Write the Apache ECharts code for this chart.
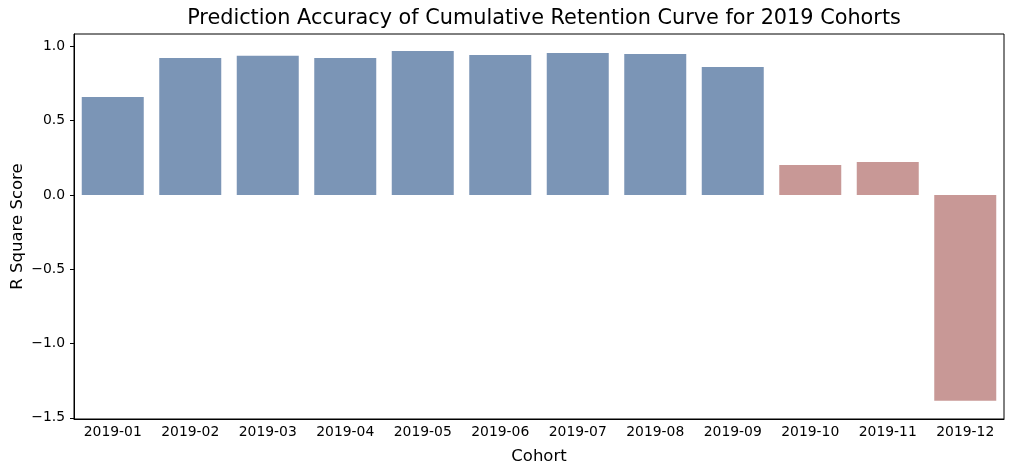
<!DOCTYPE html>
<html>
<head>
<meta charset="utf-8">
<script src="https://cdn.jsdelivr.net/npm/echarts@6/dist/echarts.min.js"></script>
<style>
html,body{margin:0;padding:0;background:#fff;}
#chart{width:1014px;height:473px;}
</style>
</head>
<body>
<div id="chart"></div>
<script>
const cohorts = ['2019-01','2019-02','2019-03','2019-04','2019-05','2019-06','2019-07','2019-08','2019-09','2019-10','2019-11','2019-12'];
const rSquare = [0.660, 0.923, 0.938, 0.923, 0.970, 0.943, 0.956, 0.949, 0.862, 0.202, 0.222, -1.385];
const yTicks = [-1.5, -1.0, -0.5, 0.0, 0.5, 1.0];
const threshold = 0.5;

const BLUE = '#7b95b6';
const RED = '#c89896';
const FONT = 'DejaVu Sans';

const chart = echarts.init(document.getElementById('chart'), null, {renderer: 'canvas'});
chart.setOption({
  animation: false,
  backgroundColor: '#fff',
  title: {
    text: 'Prediction Accuracy of Cumulative Retention Curve for 2019 Cohorts',
    left: 539, top: 3, textAlign: 'center',
    textStyle: {fontFamily: FONT, fontSize: 20.8, fontWeight: 'normal', color: '#000'}
  },
  grid: {left: 74, right: 10, top: 34, bottom: 54, show: true, borderColor: '#000', borderWidth: 1, backgroundColor: 'transparent', outerBoundsMode: 'none', containLabel: false},
  xAxis: {
    type: 'category',
    data: cohorts,
    name: 'Cohort',
    nameLocation: 'middle',
    nameGap: 29,
    nameMoveOverlap: false,
    nameTextStyle: {fontFamily: FONT, fontSize: 16.5, color: '#000'},
    axisLine: {onZero: false, lineStyle: {color: '#000', width: 1}},
    axisTick: {alignWithLabel: true, length: 4, lineStyle: {color: '#000'}},
    axisLabel: {fontFamily: FONT, fontSize: 13.9, color: '#000', margin: 6, interval: 0}
  },
  yAxis: {
    type: 'value',
    min: -1.508,
    max: 1.084,
    name: 'R Square Score',
    nameLocation: 'middle',
    nameGap: 48,
    nameMoveOverlap: false,
    nameTextStyle: {fontFamily: FONT, fontSize: 16.5, color: '#000'},
    splitLine: {show: false},
    axisLine: {show: true, lineStyle: {color: '#000', width: 1}},
    axisTick: {show: true, length: 4, lineStyle: {color: '#000'}, customValues: yTicks},
    axisLabel: {
      fontFamily: FONT, fontSize: 13.9, color: '#000', margin: 9,
      customValues: yTicks,
      formatter: v => v.toFixed(1).replace('-', '\u2212')
    }
  },
  series: [{
    type: 'bar',
    data: rSquare.map(v => ({value: v, itemStyle: {color: v < threshold ? RED : BLUE}})),
    barCategoryGap: '20%'
  }]
});
</script>
</body>
</html>
